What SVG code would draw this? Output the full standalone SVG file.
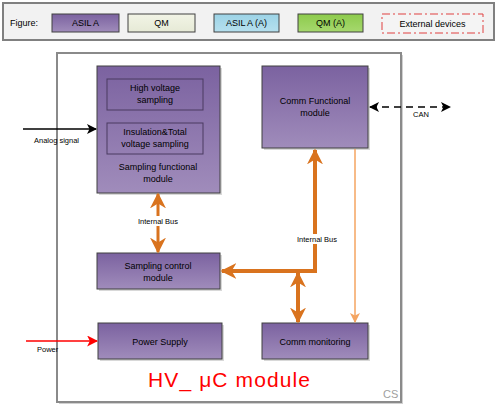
<svg xmlns="http://www.w3.org/2000/svg" width="498" height="408" viewBox="0 0 498 408">
<defs>
<linearGradient id="purple" x1="0" y1="0" x2="0" y2="1">
<stop offset="0" stop-color="#7B62A0"/><stop offset="1" stop-color="#A08CBB"/>
</linearGradient>
<linearGradient id="qm" x1="0" y1="0" x2="0" y2="1">
<stop offset="0" stop-color="#F2F4E6"/><stop offset="1" stop-color="#E6EAD6"/>
</linearGradient>
<linearGradient id="blue" x1="0" y1="0" x2="0" y2="1">
<stop offset="0" stop-color="#9CD3E6"/><stop offset="1" stop-color="#B6E0EE"/>
</linearGradient>
<linearGradient id="green" x1="0" y1="0" x2="0" y2="1">
<stop offset="0" stop-color="#8DCB4C"/><stop offset="1" stop-color="#A6D86E"/>
</linearGradient>
<marker id="ahBlack" viewBox="0 0 10 10" refX="9" refY="5" markerWidth="10" markerHeight="10" markerUnits="userSpaceOnUse" orient="auto-start-reverse">
<path d="M0,0 L10,5 L0,10 L2.5,5 z" fill="#000"/>
</marker>
<marker id="ahRed" viewBox="0 0 10 10" refX="9" refY="5" markerWidth="11" markerHeight="11" markerUnits="userSpaceOnUse" orient="auto-start-reverse">
<path d="M0,0 L10,5 L0,10 L2.5,5 z" fill="#FF0000"/>
</marker>
<marker id="ahOrange" viewBox="0 0 10 10" refX="9" refY="5" markerWidth="16" markerHeight="16" markerUnits="userSpaceOnUse" orient="auto-start-reverse">
<path d="M0,0 L10,5 L0,10 L3,5 z" fill="#D9731E"/>
</marker>
<marker id="ahLight" viewBox="0 0 10 10" refX="9" refY="5" markerWidth="10" markerHeight="10" markerUnits="userSpaceOnUse" orient="auto-start-reverse">
<path d="M0,0 L10,5 L0,10 L2.5,5 z" fill="#F4A460"/>
</marker>
</defs>
<style>
text { font-family: "Liberation Sans", Arial, sans-serif; fill: #000; }
.t { font-size: 9px; text-anchor: middle; }
.s { font-size: 7.5px; }
.node { fill: url(#purple); stroke: #404040; stroke-width: 1; }
.shadow { fill: #D8D8D8; }
.inner { fill: none; stroke: #4A3A60; stroke-width: 1; }
.leg { stroke: #404040; stroke-width: 1; }
.bus { fill: none; stroke: #D9731E; stroke-width: 4; }
</style>

<g id="legend">
<rect x="3" y="3" width="491" height="37" fill="#F2F2F2" stroke="#808080" stroke-width="2"/>
<text x="10" y="26" style="font-size:9px">Figure:</text>
<rect x="52" y="14" width="67" height="18" fill="url(#purple)" class="leg"/>
<text x="85.5" y="26" class="t">ASIL A</text>
<rect x="128" y="14" width="67" height="18" fill="url(#qm)" class="leg"/>
<text x="161.5" y="26" class="t">QM</text>
<rect x="214" y="14" width="65" height="18" fill="url(#blue)" class="leg"/>
<text x="246.5" y="26" class="t">ASIL A (A)</text>
<rect x="298" y="14" width="65" height="18" fill="url(#green)" class="leg"/>
<text x="330.5" y="26" class="t">QM (A)</text>
<rect x="382" y="14" width="101" height="19" fill="#F4F4F4" stroke="#E04040" stroke-width="1" stroke-dasharray="8,3,2,3"/>
<text x="432.5" y="27" class="t">External devices</text>
</g>

<g id="hv-module">
<rect x="59" y="55" width="344" height="349" fill="#D0D0D0"/>
<rect x="57" y="53" width="344" height="349" fill="#FFFFFF" stroke="#8A8A8A" stroke-width="2"/>
<text x="148" y="387" textLength="162" lengthAdjust="spacing" style="font-size:21px;fill:#FF0000">HV_ μC module</text>
<text x="383" y="398" style="font-size:11px;fill:#A0A0A0">CS</text>
</g>

<g id="sampling-functional">
<rect x="99" y="68" width="123" height="127" class="shadow"/>
<rect x="97" y="66" width="123" height="127" class="node"/>
<rect x="107" y="79" width="96" height="31" class="inner" fill="url(#purple)"/>
<text x="155" y="91" class="t">High voltage</text>
<text x="155" y="103" class="t">sampling</text>
<rect x="107" y="123" width="96" height="31" class="inner" fill="url(#purple)"/>
<text x="155" y="135" class="t">Insulation&amp;Total</text>
<text x="155" y="147" class="t">voltage sampling</text>
<text x="158" y="170" class="t">Sampling functional</text>
<text x="158" y="182" class="t">module</text>
</g>

<g id="comm-functional">
<rect x="264" y="68" width="106" height="82" class="shadow"/>
<rect x="262" y="66" width="106" height="82" class="node"/>
<text x="315" y="104" class="t">Comm Functional</text>
<text x="315" y="116" class="t">module</text>
</g>

<g id="sampling-control">
<rect x="99" y="255" width="123" height="36" class="shadow"/>
<rect x="97" y="253" width="123" height="36" class="node"/>
<text x="158" y="269" class="t">Sampling control</text>
<text x="158" y="281" class="t">module</text>
</g>

<g id="power-supply">
<rect x="100" y="325" width="124" height="36" class="shadow"/>
<rect x="98" y="323" width="124" height="36" class="node"/>
<text x="160" y="345" class="t">Power Supply</text>
</g>

<g id="comm-monitoring">
<rect x="264" y="325" width="106" height="36" class="shadow"/>
<rect x="262" y="323" width="106" height="36" class="node"/>
<text x="315" y="345" class="t">Comm monitoring</text>
</g>

<g id="connectors">
<line x1="23" y1="129" x2="96" y2="129" stroke="#000" stroke-width="1.5" marker-end="url(#ahBlack)"/>
<text x="34" y="143" class="s">Analog signal</text>
<line x1="26" y1="341" x2="97" y2="341" stroke="#FF0000" stroke-width="1.5" marker-end="url(#ahRed)"/>
<text x="37" y="352" class="s">Power</text>
<line x1="370" y1="107" x2="450" y2="107" stroke="#000" stroke-width="1.5" stroke-dasharray="7,5" marker-start="url(#ahBlack)" marker-end="url(#ahBlack)"/>
<text x="413" y="117" class="s">CAN</text>
<line x1="158" y1="194" x2="158" y2="252" class="bus" marker-start="url(#ahOrange)" marker-end="url(#ahOrange)" style="stroke-width:3"/>
<rect x="133" y="216" width="50" height="10" fill="#FFFFFF"/>
<text x="158" y="224" class="s" text-anchor="middle">Internal Bus</text>
<polyline points="315,150 315,271 222,271" class="bus" marker-start="url(#ahOrange)" marker-end="url(#ahOrange)"/>
<line x1="298" y1="273" x2="298" y2="322" class="bus" marker-start="url(#ahOrange)" marker-end="url(#ahOrange)"/>
<rect x="292" y="234" width="48" height="10" fill="#FFFFFF"/>
<text x="317" y="242" class="s" text-anchor="middle">Internal Bus</text>
<line x1="355" y1="149" x2="355" y2="322" stroke="#F4A460" stroke-width="1.5" marker-end="url(#ahLight)"/>
</g>
</svg>
